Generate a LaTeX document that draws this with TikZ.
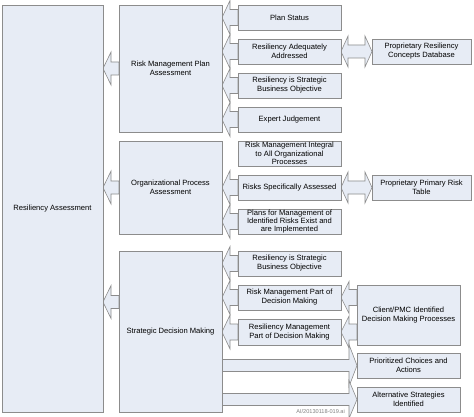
\documentclass[tikz,border=0pt]{standalone}
\usepackage{fontspec}
\setmainfont{Liberation Sans}
\usetikzlibrary{calc}
\definecolor{boxfill}{RGB}{231,236,245}
\definecolor{boxline}{RGB}{140,140,140}
\pgfdeclarelayer{bg}
\pgfsetlayers{bg,main}
\tikzset{
 box/.style={draw=boxline, fill=boxfill, line width=0.6pt, inner sep=0pt, outer sep=0pt, align=center, font=\fontsize{7.6}{9}\selectfont},
 blk/.style={draw=boxline, fill=boxfill, line width=0.6pt, line join=miter},
}
% left-pointing block arrow: #1 tip node (east), #2 tail node (west), #3 y coordinate, #4 head length, #5 head half, #6 shaft half
\newcommand\blkL[6]{\path[blk] let \p1=(#1.east), \p2=(#2.west), \p3=(#3) in
 (\x1,\y3) -- (\x1+#4pt,\y3+#5pt) -- (\x1+#4pt,\y3+#6pt) -- (\x2,\y3+#6pt) -- (\x2,\y3-#6pt) -- (\x1+#4pt,\y3-#6pt) -- (\x1+#4pt,\y3-#5pt) -- cycle;}
% right-pointing block arrow: #1 tail node (east), #2 tip node (west)
\newcommand\blkR[6]{\path[blk] let \p1=(#1.east), \p2=(#2.west), \p3=(#3) in
 (\x2,\y3) -- (\x2-#4pt,\y3+#5pt) -- (\x2-#4pt,\y3+#6pt) -- (\x1,\y3+#6pt) -- (\x1,\y3-#6pt) -- (\x2-#4pt,\y3-#6pt) -- (\x2-#4pt,\y3-#5pt) -- cycle;}
% double block arrow
\newcommand\blkD[6]{\path[blk] let \p1=(#1.east), \p2=(#2.west), \p3=(#3) in
 (\x1,\y3) -- (\x1+#4pt,\y3+#5pt) -- (\x1+#4pt,\y3+#6pt) -- (\x2-#4pt,\y3+#6pt) -- (\x2-#4pt,\y3+#5pt) -- (\x2,\y3) -- (\x2-#4pt,\y3-#5pt) -- (\x2-#4pt,\y3-#6pt) -- (\x1+#4pt,\y3-#6pt) -- (\x1+#4pt,\y3-#5pt) -- cycle;}
\begin{document}
\begin{tikzpicture}[x=1pt,y=-1pt]
\useasboundingbox (0,0) rectangle (474,417);
% main column boxes
\node[box, minimum width=101pt, minimum height=407pt] (ra) at (52.5,208.5) {Resiliency Assessment};
\node[box, minimum width=103pt, minimum height=127pt] (rmpa) at (170.5,68.5) {Risk Management Plan\\Assessment};
\node[box, minimum width=103pt, minimum height=93pt] (opa) at (170.5,187.5) {Organizational Process\\Assessment};
\node[box, minimum width=103pt, minimum height=161pt] (sdm) at (170.5,331.5) {Strategic Decision Making};
% small boxes
\node[box, minimum width=103pt, minimum height=25pt] (ps) at (289.5,17.5) {Plan Status};
\node[box, minimum width=103pt, minimum height=25pt] (raa) at (289.5,51.5) {Resiliency Adequately\\Addressed};
\node[box, minimum width=103pt, minimum height=25pt] (rsb) at (289.5,85.5) {Resiliency is Strategic\\Business Objective};
\node[box, minimum width=103pt, minimum height=25pt] (ej) at (289.5,119.5) {Expert Judgement};
\node[box, minimum width=103pt, minimum height=25pt, font=\fontsize{7.6}{8.3}\selectfont] (rmi) at (289.5,153.5) {Risk Management Integral\\to All Organizational\\Processes};
\node[box, minimum width=103pt, minimum height=25pt] (rsa) at (289.5,187.5) {Risks Specifically Assessed};
\node[box, minimum width=103pt, minimum height=25pt, font=\fontsize{7.6}{8.3}\selectfont] (pfm) at (289.5,221.5) {Plans for Management of\\Identified Risks Exist and\\are Implemented};
\node[box, minimum width=103pt, minimum height=25pt] (rsb2) at (289.5,263.5) {Resiliency is Strategic\\Business Objective};
\node[box, minimum width=103pt, minimum height=25pt] (rmp) at (289.5,297.5) {Risk Management Part of\\Decision Making};
\node[box, minimum width=103pt, minimum height=26pt] (rmdm) at (289.5,332) {Resiliency Management\\Part of Decision Making};
% right boxes
\node[box, minimum width=99pt, minimum height=25pt] (prcd) at (421.5,51.5) {Proprietary Resiliency\\Concepts Database};
\node[box, minimum width=99pt, minimum height=25pt] (ppr) at (421.5,187.5) {Proprietary Primary Risk\\Table};
\node[box, minimum width=103pt, minimum height=60pt] (cpmc) at (408.5,315) {Client/PMC Identified\\Decision Making Processes};
\node[box, minimum width=103pt, minimum height=25pt] (pca) at (408.5,365.5) {Prioritized Choices and\\Actions};
\node[box, minimum width=103pt, minimum height=25pt] (asi) at (408.5,399.5) {Alternative Strategies\\Identified};
\node[anchor=east, inner sep=0pt, text=gray, font=\fontsize{5.6}{6.5}\selectfont] (lbl) at (345,411) {AI/20130118-019.ai};
\begin{pgfonlayer}{bg}
\path[fill=white] (0,0) rectangle (474,417);
% arrows into Resiliency Assessment
\blkL{ra}{rmpa}{rmpa.center}{8}{16.5}{6.5}
\blkL{ra}{opa}{opa.center}{8}{16.5}{6.5}
\blkL{ra}{sdm}{0,302}{8}{16.5}{6.5}
% arrows into RMPA
\blkL{rmpa}{ps}{ps.center}{8}{17}{8}
\blkL{rmpa}{raa}{raa.center}{8}{17}{8}
\blkL{rmpa}{rsb}{rsb.center}{8}{17}{8}
\blkL{rmpa}{ej}{ej.center}{8}{17}{8}
% arrows into OPA
\blkL{opa}{rsa}{rsa.center}{8}{17}{8}
\blkL{opa}{pfm}{pfm.center}{8}{17}{8}
% arrows into SDM
\blkL{sdm}{rsb2}{rsb2.center}{8}{17}{8}
\blkL{sdm}{rmp}{rmp.center}{8}{17}{8}
\blkL{sdm}{rmdm}{rmdm.center}{8}{17}{8}
% Client/PMC arrows
\blkL{rmp}{cpmc}{rmp.center}{8}{16}{8}
\blkL{rmdm}{cpmc}{rmdm.center}{8}{16}{8}
% double arrows
\blkD{raa}{prcd}{raa.center}{7}{15.5}{6.5}
\blkD{rsa}{ppr}{rsa.center}{7}{15.5}{6.5}
% right arrows out of SDM
\blkR{sdm}{pca}{pca.center}{8}{21}{6}
\blkR{sdm}{asi}{asi.center}{8}{19}{6}
\end{pgfonlayer}
\end{tikzpicture}
\end{document}
